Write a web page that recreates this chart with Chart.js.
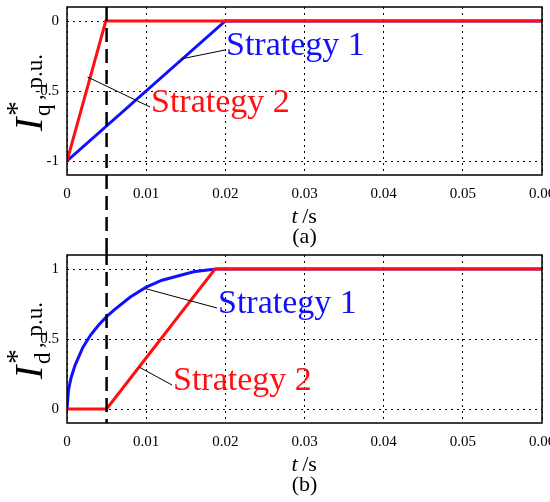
<!DOCTYPE html>
<html>
<head>
<meta charset="utf-8">
<script src="https://cdn.jsdelivr.net/npm/chart.js@4"></script>
<style>
  body { margin: 0; background: #fff; }
  canvas { display: block; }
</style>
</head>
<body>
<div style="width:550px;height:251px"><canvas id="top"></canvas></div>
<div style="width:550px;height:251px"><canvas id="bottom"></canvas></div>
<script>
const xTicks = [0, 0.01, 0.02, 0.03, 0.04, 0.05, 0.06];
const iqTicks = [-1, -0.5, 0];
const idTicks = [0, 0.5, 1];
const switchTime = 0.005;

const iqStrategy1 = [{ x: 0, y: -1 }, { x: 0.02, y: 0 }, { x: 0.06, y: 0 }];
const iqStrategy2 = [{ x: 0, y: -1 }, { x: 0.0049, y: 0 }, { x: 0.06, y: 0 }];

const idStrategy1 = [
  { x: 0, y: 0 }, { x: 0.0002, y: 0.14 }, { x: 0.0005, y: 0.22 }, { x: 0.001, y: 0.31 },
  { x: 0.002, y: 0.44 }, { x: 0.003, y: 0.53 }, { x: 0.004, y: 0.6 }, { x: 0.005, y: 0.66 },
  { x: 0.006, y: 0.71 }, { x: 0.008, y: 0.8 }, { x: 0.01, y: 0.87 }, { x: 0.012, y: 0.92 },
  { x: 0.014, y: 0.95 }, { x: 0.016, y: 0.98 }, { x: 0.018, y: 0.995 }, { x: 0.019, y: 1 },
  { x: 0.06, y: 1 },
];
const idStrategy2 = [{ x: 0, y: 0 }, { x: 0.005, y: 0 }, { x: 0.0187, y: 1 }, { x: 0.06, y: 1 }];

// label text, anchor point on the curve (data), text position (pixels)
const topNotes = [
  { text: "Strategy 1", color: "#1010ff", at: { x: 0.0145, y: -0.27 }, tx: 225, ty: 50 },
  { text: "Strategy 2", color: "#ff1010", at: { x: 0.0026, y: -0.4 }, tx: 150, ty: 107 },
];
const bottomNotes = [
  { text: "Strategy 1", color: "#1010ff", at: { x: 0.0099, y: 0.86 }, tx: 217, ty: 57 },
  { text: "Strategy 2", color: "#ff1010", at: { x: 0.0091, y: 0.3 }, tx: 172, ty: 134 },
];

const serif = "'Liberation Serif', 'DejaVu Serif', serif";

const framePlugin = {
  id: "frame",
  afterDatasetsDraw(chart, args, opts) {
    const { ctx, chartArea: a, scales } = chart;
    ctx.save();
    ctx.strokeStyle = "#000";
    ctx.lineWidth = 1.5;
    ctx.strokeRect(a.left, a.top, a.right - a.left, a.bottom - a.top);
    // switching instant dashed line
    const xs = scales.x.getPixelForValue(switchTime);
    ctx.setLineDash([14, 7]);
    ctx.lineWidth = 2.5;
    ctx.beginPath();
    ctx.moveTo(xs, opts.lineFrom);
    ctx.lineTo(xs, opts.lineTo);
    ctx.stroke();
    ctx.setLineDash([]);
    // notes
    ctx.lineWidth = 1;
    ctx.font = "34px " + serif;
    ctx.textBaseline = "middle";
    for (const n of opts.notes) {
      const px = scales.x.getPixelForValue(n.at.x);
      const py = scales.y.getPixelForValue(n.at.y);
      ctx.strokeStyle = "#000";
      ctx.beginPath();
      ctx.moveTo(px, py);
      ctx.lineTo(n.tx, n.ty);
      ctx.stroke();
      ctx.fillStyle = n.color;
      ctx.fillText(n.text, n.tx + 1, n.ty - 4);
    }
    // axis titles
    ctx.fillStyle = "#000";
    ctx.textAlign = "center";
    ctx.textBaseline = "alphabetic";
    const cx = (a.left + a.right) / 2;
    ctx.font = "italic 22px " + serif;
    ctx.fillText("t", cx - 10, a.bottom + 48);
    ctx.font = "22px " + serif;
    ctx.fillText("/s", cx + 5, a.bottom + 48);
    ctx.fillText(opts.panel, cx, a.bottom + 68);
    // y title rotated
    ctx.translate(42, (a.top + a.bottom) / 2 + 40);
    ctx.rotate(-Math.PI / 2);
    ctx.textAlign = "left";
    ctx.font = "italic 40px " + serif;
    ctx.fillText("I", 0, 0);
    ctx.font = "30px " + serif;
    ctx.fillText("*", 15, -16);
    ctx.font = "23px " + serif;
    ctx.fillText(opts.sub, 15, 8);
    ctx.fillText(", p.u.", 31, 0);
    ctx.restore();
  },
};

function makeChart(id, s1, s2, yTicks, yMin, yMax, opts) {
  const set = (vals) => (axis) => { axis.ticks = vals.map((v) => ({ value: v })); };
  return new Chart(document.getElementById(id), {
    type: "line",
    data: {
      datasets: [
        { data: s1, borderColor: "#1010ff", borderWidth: 3, pointRadius: 0, tension: 0, order: 1 },
        { data: s2, borderColor: "#ff1010", borderWidth: 3, pointRadius: 0, tension: 0, order: 0 },
      ],
    },
    options: {
      animation: false,
      responsive: true,
      maintainAspectRatio: false,
      layout: { padding: { top: opts.padTop, right: 8, left: 0, bottom: 0 } },
      plugins: { legend: { display: false }, tooltip: { enabled: false }, frame: opts },
      scales: {
        x: {
          type: "linear", min: 0, max: 0.06,
          afterBuildTicks: set(xTicks),
          afterFit(axis) { axis.height = opts.xHeight; axis.paddingLeft = 0; axis.paddingRight = 0; },
          grid: { color: "#000", lineWidth: 1, drawTicks: false },
          border: { display: false, dash: [2, 4] },
          ticks: { color: "#000", font: { family: serif, size: 15 }, padding: 10, maxRotation: 0,
            callback: (v) => String(v) },
        },
        y: {
          min: yMin, max: yMax,
          afterBuildTicks: set(yTicks),
          afterFit(axis) { axis.width = 67; axis.paddingTop = 0; axis.paddingBottom = 0; },
          grid: { color: "#000", lineWidth: 1, drawTicks: false },
          border: { display: false, dash: [2, 4] },
          ticks: { color: "#000", font: { family: serif, size: 15 }, padding: 8,
            callback: (v) => String(v) },
        },
      },
    },
    plugins: [framePlugin],
  });
}

makeChart("top", iqStrategy1, iqStrategy2, iqTicks, -1.1, 0.1,
  { padTop: 7, xHeight: 76, notes: topNotes, panel: "(a)", sub: "q", lineFrom: 7, lineTo: 251 });
makeChart("bottom", idStrategy1, idStrategy2, idTicks, -0.1, 1.1,
  { padTop: 4, xHeight: 79, notes: bottomNotes, panel: "(b)", sub: "d", lineFrom: 0, lineTo: 172 });
</script>
</body>
</html>
